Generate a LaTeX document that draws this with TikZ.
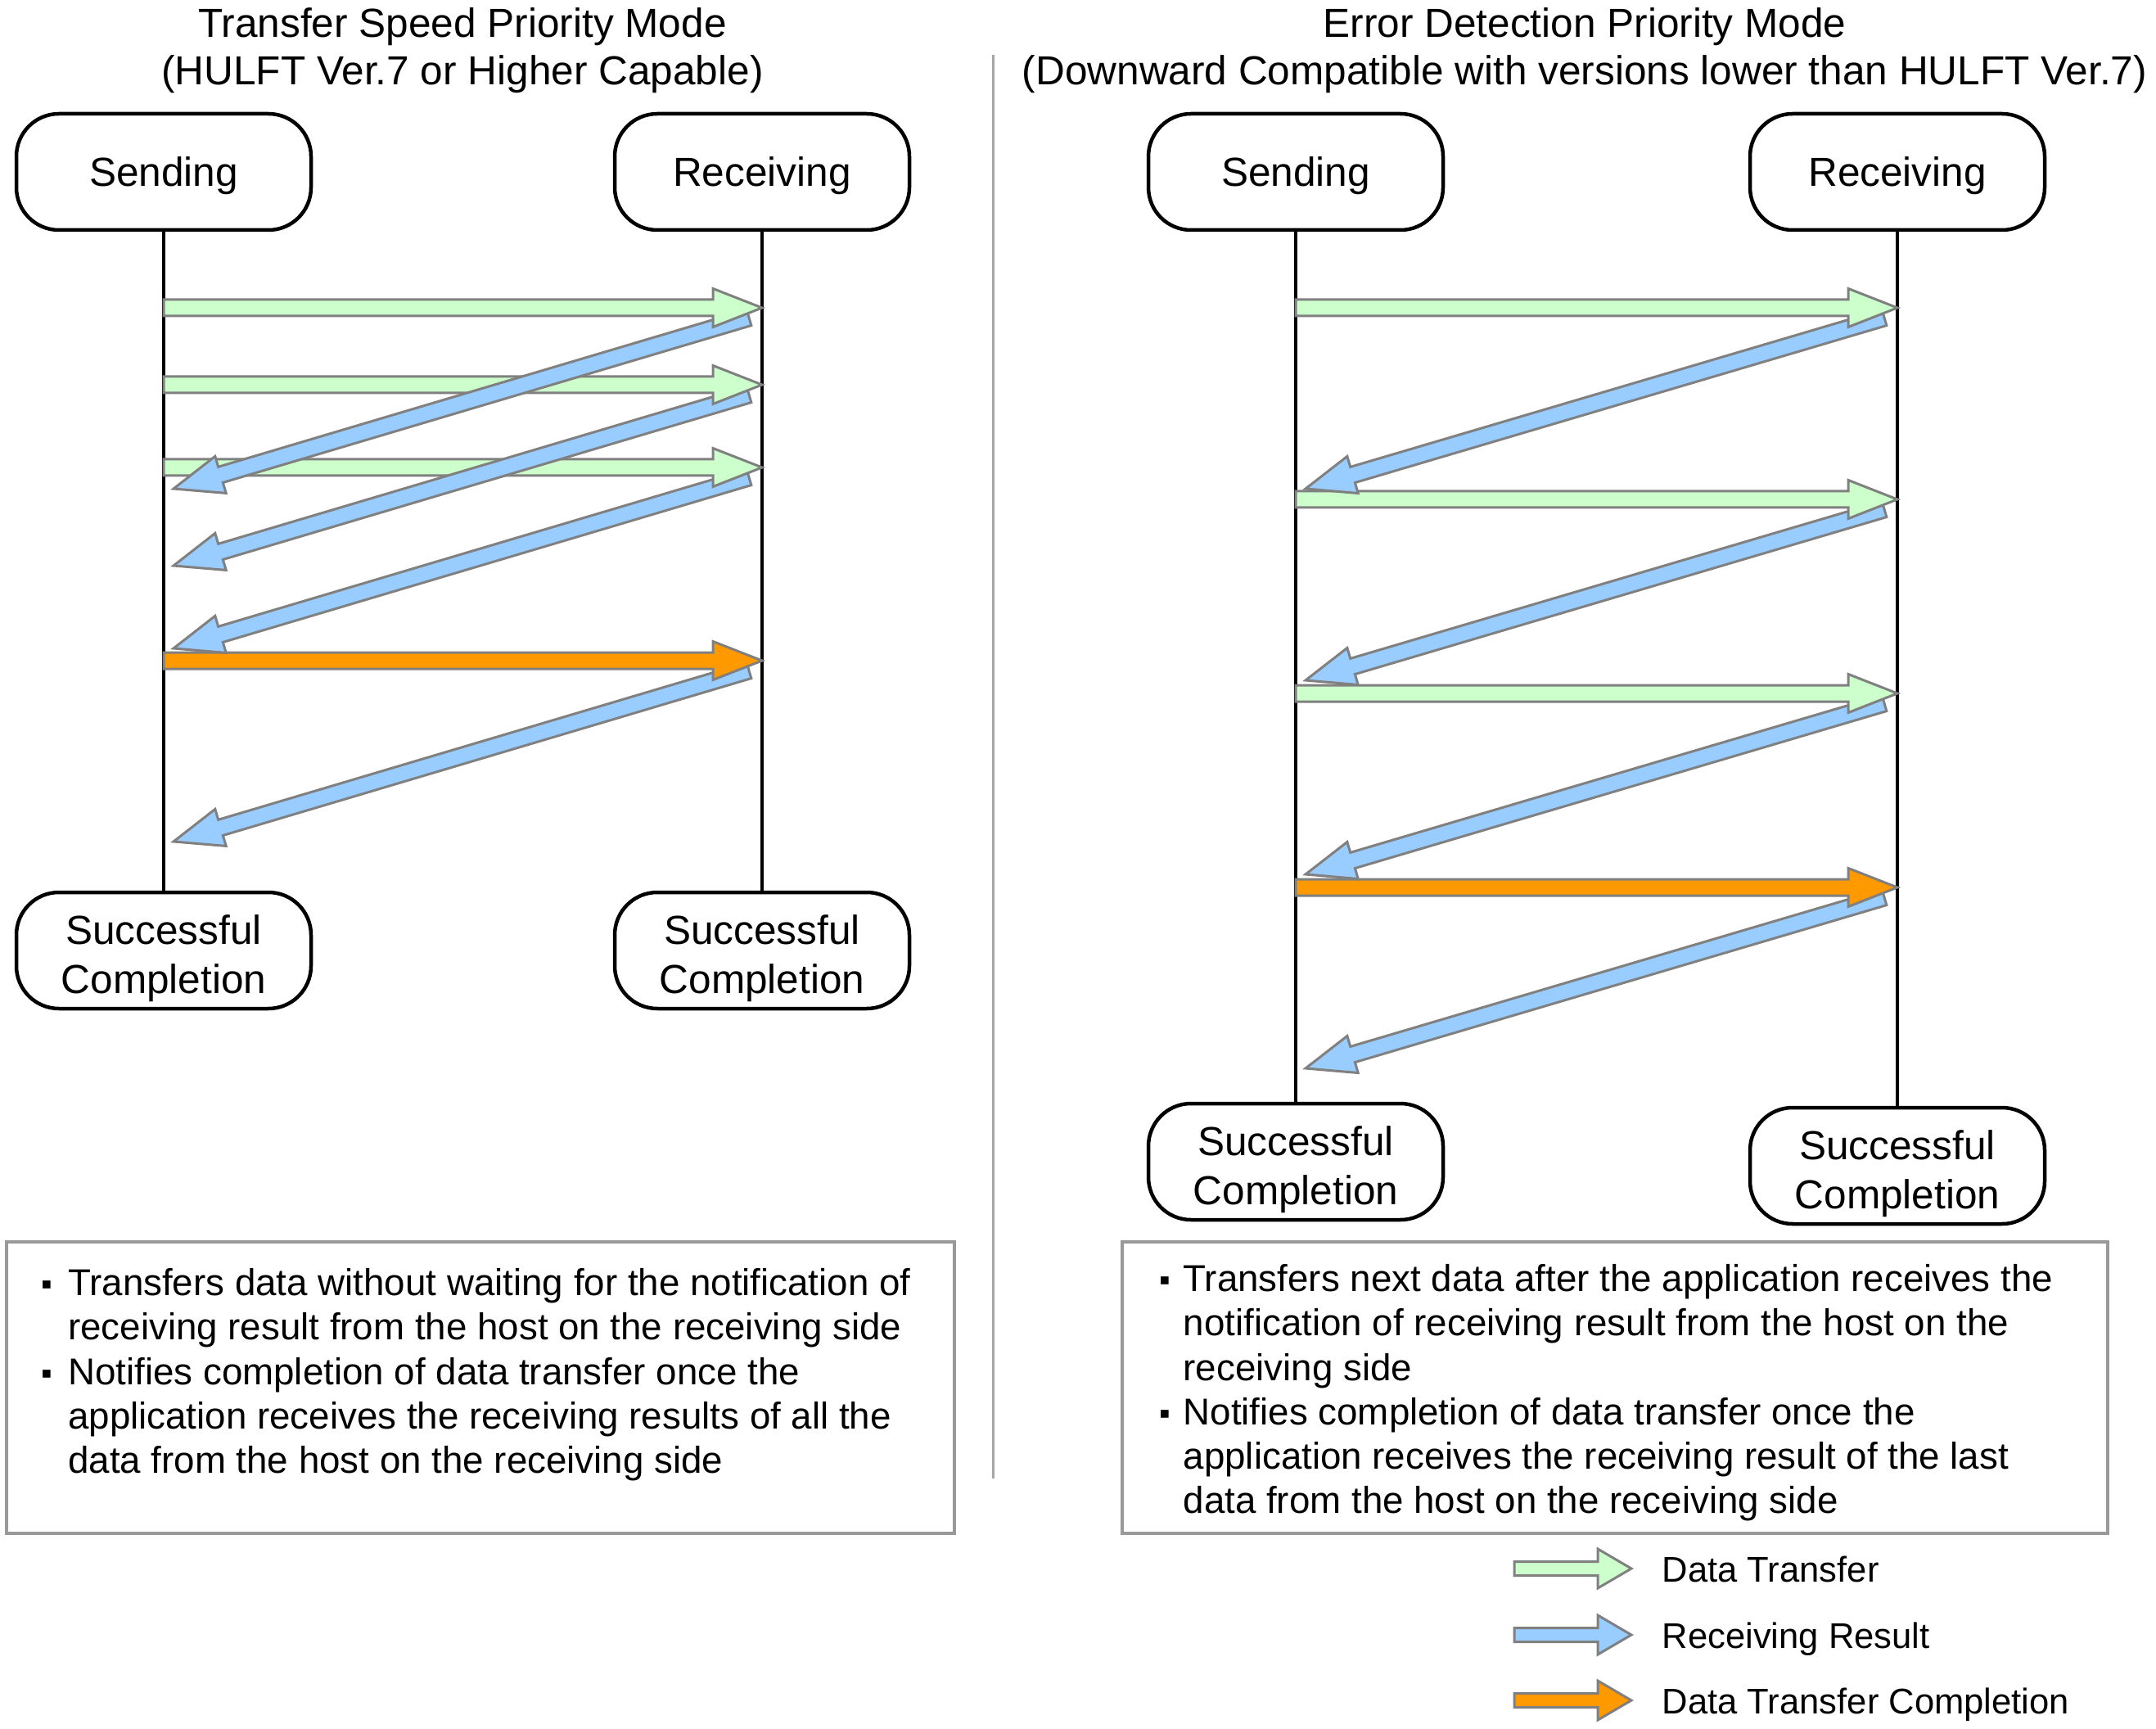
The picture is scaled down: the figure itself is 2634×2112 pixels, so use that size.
\documentclass[tikz,border=0pt]{standalone}
\usepackage{fontspec}
\setmainfont{Liberation Sans}
\usetikzlibrary{calc}
\definecolor{dtgreen}{HTML}{CCFFCC}
\definecolor{rrblue}{HTML}{99CCFF}
\definecolor{dcorange}{HTML}{FF9900}
\definecolor{arrgray}{HTML}{808080}
\definecolor{boxgray}{HTML}{999999}
\definecolor{divgray}{HTML}{A6A6A6}
\newcommand\baSW{1mm}
\newcommand\baHW{2.35mm}
\newcommand\baHL{6mm}
\newcommand\blockarrow[3]{%
  \coordinate (ba-h) at ($(#3)!\baHL!(#2)$);
  \filldraw[#1] ($(#2)!\baSW!90:(#3)$) -- ($(ba-h)!\baSW!90:(#3)$) -- ($(ba-h)!\baHW!90:(#3)$) -- (#3) -- ($(ba-h)!\baHW!-90:(#3)$) -- ($(ba-h)!\baSW!-90:(#3)$) -- ($(#2)!\baSW!-90:(#3)$) -- cycle;}
\newcommand\plbl[2]{\raisebox{#1}[\height][\depth]{\begin{tabular}{@{}c@{}}#2\end{tabular}}}
\newcommand\bul{\raisebox{0.1mm}{\fontsize{11pt}{11pt}\selectfont ▪}}
\tikzset{
  dt/.style={fill=dtgreen, draw=arrgray, line width=0.3mm},
  rr/.style={fill=rrblue, draw=arrgray, line width=0.3mm},
  dc/.style={fill=dcorange, draw=arrgray, line width=0.3mm},
  party/.style={draw=black, line width=0.45mm, rounded corners=5.2mm, minimum width=36mm, minimum height=14.2mm, inner sep=0pt, font=\fontsize{14.1pt}{17pt}\selectfont},
  life/.style={draw=black, line width=0.4mm},
  ttl/.style={align=center, inner sep=0pt, font=\fontsize{14.1pt}{16.5pt}\selectfont},
  frame/.style={draw=boxgray, line width=0.4mm, inner sep=0pt},
  txt/.style={align=left, inner sep=0pt, anchor=north west, font=\fontsize{13pt}{15.4pt}\selectfont},
  leg/.style={anchor=base west, inner sep=0pt, font=\fontsize{12.4pt}{14pt}\selectfont}
}
\begin{document}
\begin{tikzpicture}[x=0.1mm, y=-0.1mm]
\useasboundingbox[fill=white] (0,0) rectangle (2634,2112);

% ---------- titles ----------
\node[ttl] (ltitle) at (565,62) {Transfer Speed Priority Mode\\(HULFT Ver.7 or Higher Capable)};
\node[ttl] (rtitle) at (1936,62) {Error Detection Priority Mode\\(Downward Compatible with versions lower than HULFT Ver.7)};

% divider
\coordinate (divA) at (1213,67);
\coordinate (divB) at (1213,1806);
\draw[divgray, line width=0.3mm] (divA) -- (divB);

% ---------- left panel ----------
\node[party] (lsend) at (200,210) {\plbl{-1.6pt}{Sending}};
\node[party] (lrecv) at (931,210) {\plbl{-1.6pt}{Receiving}};
\node[party] (lsendE) at (200,1161) {\plbl{-3.1pt}{Successful\\Completion}};
\node[party] (lrecvE) at (931,1161) {\plbl{-3.1pt}{Successful\\Completion}};
\draw[life] (lsend.south) -- (lsendE.north);
\draw[life] (lrecv.south) -- (lrecvE.north);

\foreach \n/\y in {1/376,2/470,3/571,4/807}{
  \coordinate (lg\n a) at (200,\y);
  \coordinate (lg\n b) at (931,\y);
  \coordinate (lb\n a) at (915,\y+12);
  \coordinate (lb\n b) at (212,\y+221);
}
\blockarrow{rr}{lb4a}{lb4b}
\blockarrow{dc}{lg4a}{lg4b}
\blockarrow{rr}{lb3a}{lb3b}
\blockarrow{dt}{lg3a}{lg3b}
\blockarrow{rr}{lb2a}{lb2b}
\blockarrow{dt}{lg2a}{lg2b}
\blockarrow{rr}{lb1a}{lb1b}
\blockarrow{dt}{lg1a}{lg1b}

% ---------- right panel ----------
\node[party] (rsend) at (1583,210) {\plbl{-1.6pt}{Sending}};
\node[party] (rrecv) at (2318,210) {\plbl{-1.6pt}{Receiving}};
\node[party] (rsendE) at (1583,1419) {\plbl{-3.1pt}{Successful\\Completion}};
\node[party] (rrecvE) at (2318,1424) {\plbl{-3.1pt}{Successful\\Completion}};
\draw[life] (rsend.south) -- (rsendE.north);
\draw[life] (rrecv.south) -- (rrecvE.north);

\foreach \n/\y in {1/376,2/610,3/847,4/1084}{
  \coordinate (rg\n a) at (1583,\y);
  \coordinate (rg\n b) at (2318,\y);
  \coordinate (rb\n a) at (2302,\y+12);
  \coordinate (rb\n b) at (1595,\y+221);
}
\blockarrow{rr}{rb4a}{rb4b}
\blockarrow{dc}{rg4a}{rg4b}
\blockarrow{rr}{rb3a}{rb3b}
\blockarrow{dt}{rg3a}{rg3b}
\blockarrow{rr}{rb2a}{rb2b}
\blockarrow{dt}{rg2a}{rg2b}
\blockarrow{rr}{rb1a}{rb1b}
\blockarrow{dt}{rg1a}{rg1b}

% ---------- text boxes ----------
\node[frame, minimum width=115.8mm, minimum height=35.6mm] (lframe) at (587,1695) {};
\node[frame, minimum width=120.4mm, minimum height=35.6mm] (rframe) at (1973,1695) {};
\node[txt] (ltxt) at (50,1549) {\makebox[3.25mm][l]{\bul}Transfers data without waiting for the notification of\\
\hspace*{3.25mm}receiving result from the host on the receiving side\\
\makebox[3.25mm][l]{\bul}Notifies completion of data transfer once the\\
\hspace*{3.25mm}application receives the receiving results of all the\\
\hspace*{3.25mm}data from the host on the receiving side};
\node[txt] (rtxt) at (1416,1544) {\makebox[2.9mm][l]{\bul}Transfers next data after the application receives the\\
\hspace*{2.9mm}notification of receiving result from the host on the\\
\hspace*{2.9mm}receiving side\\
\makebox[2.9mm][l]{\bul}Notifies completion of data transfer once the\\
\hspace*{2.9mm}application receives the receiving result of the last\\
\hspace*{2.9mm}data from the host on the receiving side};

% ---------- legend ----------
\renewcommand\baSW{0.85mm}
\renewcommand\baHW{2.4mm}
\renewcommand\baHL{4.1mm}
\foreach \n/\y in {1/1916,2/1997,3/2077}{
  \coordinate (leg\n a) at (1850,\y);
  \coordinate (leg\n b) at (1993,\y);
}
\blockarrow{dt}{leg1a}{leg1b}
\blockarrow{rr}{leg2a}{leg2b}
\blockarrow{dc}{leg3a}{leg3b}
\node[leg] (legt1) at (2030,1932) {Data Transfer};
\node[leg] (legt2) at (2030,2013) {Receiving Result};
\node[leg] (legt3) at (2030,2093) {Data Transfer Completion};
\end{tikzpicture}
\end{document}
